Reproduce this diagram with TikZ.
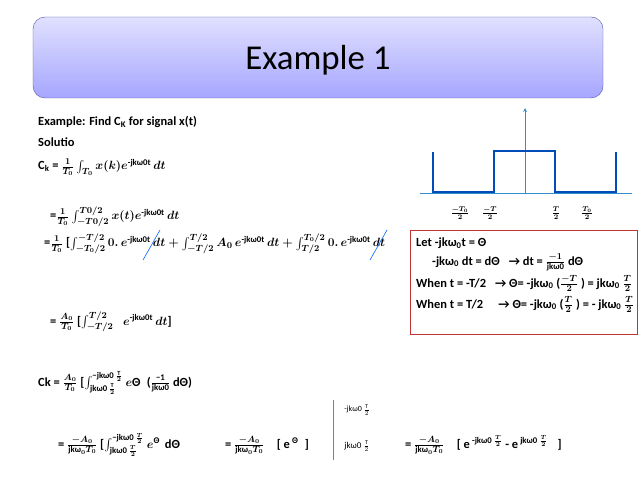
\documentclass[tikz,border=0pt]{standalone}
\usepackage{amsmath}
\usepackage{fontspec}
\setmainfont{Carlito}
\begin{document}
\begin{tikzpicture}[x=1bp,y=-1bp,
  txt/.style={anchor=base west,inner sep=0pt,font=\bfseries\boldmath\fontsize{12.5}{14}\selectfont},
  sig/.style={draw=blue!60!black!70!cyan,line width=2pt},
  lbl/.style={anchor=center,inner sep=0pt,font=\boldmath\fontsize{10}{11}\selectfont}]
\useasboundingbox (0,0) rectangle (638,478);
\fill[white] (0,0) rectangle (638,478);
\shade[top color=blue!12,bottom color=blue!35,draw=blue!35!gray,rounded corners=12bp] (33,17) rectangle (603,98);
\node[inner sep=0pt,font=\fontsize{35}{40}\selectfont] (title) at (318,60) {Example 1};
% signal
\coordinate (ax0) at (420,193); \coordinate (ax1) at (632,193);
\draw[blue!40!cyan!60!gray,line width=0.8pt] (ax0) -- (ax1);
\coordinate (ar0) at (525,193); \coordinate (ar1) at (525,108);
\draw[blue!40!cyan!60!gray,line width=0.8pt,-stealth] (ar0) -- (ar1);
\draw[sig] (433,152) -- (433,192) -- (494,192) -- (494,151) -- (555,151) -- (555,192) -- (616,192) -- (616,152);
\node[lbl] (l1) at (460,213) {$\frac{-T_0}{2}$};
\node[lbl] (l2) at (490,213) {$\frac{-T}{2}$};
\node[lbl] (l3) at (556,213) {$\frac{T}{2}$};
\node[lbl] (l4) at (587,213) {$\frac{T_0}{2}$};
% text
\node[txt] (t1) at (38,126) {Example: Find C\textsubscript{K} for signal x(t)};
\node[txt] (t2) at (38,147) {Solutio};
\node[txt] (e1) at (38,170) {C\textsubscript{k} = $\frac{1}{T_0}\int_{T_0} x(k)e^{\text{-jkω0t}}\,dt$};
\node[txt] (e2) at (50,220) {=$\frac{1}{T_0}\int_{-T0/2}^{T0/2} x(t)e^{\text{-jkω0t}}\,dt$};
\node[txt] (e3) at (44,247) {=$\frac{1}{T_0}$ [$\int_{-T_0/2}^{-T/2} 0.\,e^{\text{-jkω0t}}\,dt+\int_{-T/2}^{T/2}A_0\,e^{\text{-jkω0t}}\,dt+\int_{T/2}^{T_0/2}0.\,e^{\text{-jkω0t}}\,dt$};
\coordinate (s1a) at (143,260); \coordinate (s1b) at (160,230);
\coordinate (s2a) at (370,260); \coordinate (s2b) at (387,230);
\draw[blue!60!cyan,line width=0.6pt] (s1a) -- (s1b);
\draw[blue!60!cyan,line width=0.6pt] (s2a) -- (s2b);
\node[txt] (e4) at (50,325) {= $\frac{A_0}{T_0}$ [$\int_{-T/2}^{T/2}$\;\; $e^{\text{-jkω0t}}\,dt$]};
\node[txt] (e5) at (38,386) {Ck = $\frac{A_0}{T_0}$ [$\int_{\text{jkω0}\,\frac{\text{T}}{2}}^{\text{−jkω0}\,\frac{\text{T}}{2}}$ $e$Θ\; ($\frac{\text{−1}}{\text{jkω0}}$ dΘ)};
\node[txt] (e6) at (58,448) {= $\frac{-A_0}{\text{jkω}_0T_0}$ [$\int_{\text{jkω0}\,\frac{T}{2}}^{\text{−jkω0}\,\frac{T}{2}}$ $e^{\text{Θ}}$\, dΘ};
\node[txt] (e7) at (225,448) {= $\frac{-A_0}{\text{jkω}_0T_0}$\quad [ e\,\textsuperscript{Θ}\; ]};
\coordinate (bar0) at (333,400); \coordinate (bar1) at (333,460);
\draw[gray,line width=0.5pt] (bar0) -- (bar1);
\node[lbl,font=\fontsize{8}{9}\selectfont] (up) at (357,410) {-jkω0 $\frac{\text{T}}{2}$};
\node[lbl,font=\fontsize{9}{10}\selectfont] (lo) at (357,446) {jkω0 $\frac{\text{T}}{2}$};
\node[txt] (e8) at (405,448) {= $\frac{-A_0}{\text{jkω}_0T_0}$\quad [ e\,\textsuperscript{-jkω0 $\frac{T}{2}$} - e\,\textsuperscript{jkω0 $\frac{T}{2}$}\;\; ]};
% red box
\draw[red!70!black!80,line width=0.8pt] (410,230) rectangle (637,334);
\node[txt] (b1) at (416,247) {Let -jkω\textsubscript{0}t = Θ};
\node[txt] (b2) at (432,265) {-jkω\textsubscript{0} dt = dΘ \enspace → dt = $\frac{-1}{\text{jkω0}}$ dΘ};
\node[txt] (b3) at (416,287) {When t = -T/2 \enspace → Θ= -jkω\textsubscript{0} ($\frac{-T}{2}$ ) = jkω\textsubscript{0} $\frac{T}{2}$};
\node[txt] (b4) at (416,308) {When t = T/2 \quad → Θ= -jkω\textsubscript{0} ($\frac{T}{2}$ ) = - jkω\textsubscript{0} $\frac{T}{2}$};
\end{tikzpicture}
\end{document}
